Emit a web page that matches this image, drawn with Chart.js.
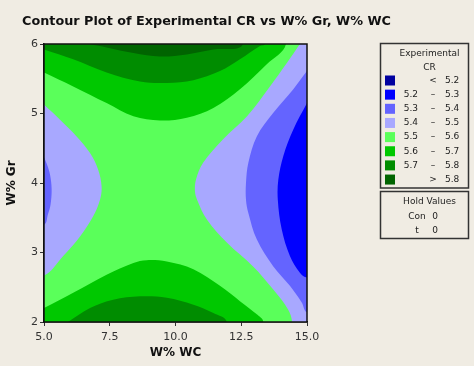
<!DOCTYPE html>
<html>
<head>
<meta charset="utf-8">
<style>
  html, body { margin: 0; padding: 0; background: #f0ece3; }
  #wrap { width: 474px; height: 366px; }
</style>
<script src="https://cdn.jsdelivr.net/npm/chart.js@4.4.0/dist/chart.umd.min.js"></script>
</head>
<body>
<div id="wrap"><canvas id="c" width="474" height="366"></canvas></div>
<script>
// ---------- texts ----------
const chartTitle = 'Contour Plot of Experimental CR vs W% Gr, W% WC';
const xTitle = 'W% WC';
const yTitle = 'W% Gr';
const xTicks = [5.0, 7.5, 10.0, 12.5, 15.0];
const yTicks = [2, 3, 4, 5, 6];
const legendTitle = ['Experimental', 'CR'];
const legendFrom = ['', '5.2', '5.3', '5.4', '5.5', '5.6', '5.7', ''];
const legendSym  = ['<', '\u2013', '\u2013', '\u2013', '\u2013', '\u2013', '\u2013', '>'];
const legendTo   = ['5.2', '5.3', '5.4', '5.5', '5.6', '5.7', '5.8', '5.8'];
const levelColors = ['#0000a0', '#0000ff', '#6464ff', '#a8a8ff', '#5aff5a', '#00c800', '#008c00', '#006400'];
const holdTitle = 'Hold Values';
const holdNames = ['Con', 't'];
const holdValues = [0, 0];

// ---------- contour lines: [W% WC, W% Gr] ----------
const c56Top = [[5.0,5.59],[6.11,5.39],[7.38,5.15],[8.40,4.96],[9.41,4.90],[10.43,4.94],[11.44,5.08],[12.45,5.35],[13.47,5.71],[14.20,6.0]];
const c57Top = [[5.0,5.92],[6.11,5.78],[7.38,5.59],[8.65,5.46],[9.67,5.44],[10.68,5.48],[11.69,5.61],[12.45,5.78],[13.21,5.97],[13.40,6.0]];
const c58Top = [[6.75,6.0],[7.38,5.95],[8.40,5.87],[9.41,5.82],[10.43,5.85],[11.44,5.92],[12.57,6.0]];
const c56Bot = [[5.0,2.20],[6.11,2.42],[7.38,2.68],[8.40,2.85],[8.90,2.89],[9.67,2.87],[10.68,2.76],[11.69,2.52],[12.45,2.30],[13.09,2.11],[13.34,2.0]];
const c57Bot = [[5.91,2.0],[6.75,2.20],[7.63,2.32],[8.65,2.37],[9.67,2.35],[10.68,2.25],[11.44,2.13],[11.95,2.0]];
const c55Left = [[5.0,5.13],[5.61,4.91],[6.24,4.67],[6.75,4.43],[7.06,4.19],[7.19,3.95],[7.13,3.76],[6.87,3.52],[6.37,3.23],[5.73,2.95],[5.0,2.67]];
const c54Left = [[5.0,4.37],[5.11,4.27],[5.23,4.12],[5.29,3.91],[5.25,3.69],[5.15,3.55],[5.0,3.40]];
const c55Right = [[14.73,6.0],[14.24,5.73],[13.59,5.39],[12.72,4.96],[11.81,4.63],[11.05,4.29],[10.78,4.05],[10.74,3.88],[10.82,3.76],[11.20,3.47],[11.96,3.14],[12.95,2.80],[13.71,2.47],[14.28,2.18],[14.43,2.0]];
const c54Right = [[15.0,5.61],[14.48,5.35],[13.72,5.01],[13.09,4.67],[12.77,4.29],[12.68,4.00],[12.68,3.76],[12.77,3.57],[13.09,3.19],[13.72,2.80],[14.35,2.52],[14.80,2.28],[15.0,2.14]];
const c53Right = [[15.0,5.15],[14.48,4.77],[14.10,4.39],[13.91,4.05],[13.89,3.76],[14.04,3.33],[14.35,2.95],[14.73,2.71],[15.0,2.64]];

// ---------- build filled regions (painter's order) ----------
const X0 = xTicks[0], X1 = xTicks[xTicks.length - 1];
const Y0 = yTicks[0], Y1 = yTicks[yTicks.length - 1];
function outward(p) {
  if (p[0] <= X0) return [X0 - 1, p[1]];
  if (p[0] >= X1) return [X1 + 1, p[1]];
  if (p[1] >= Y1) return [p[0], Y1 + 1];
  return [p[0], Y0 - 1];
}
const TL = [X0 - 1, Y1 + 1], BL = [X0 - 1, Y0 - 1], TR = [X1 + 1, Y1 + 1], BR = [X1 + 1, Y0 - 1];
// region: [contour, colour index, corners outside the plot to close the shape]
const regions = [
  [c55Left, 3, []], [c55Right, 3, [BR, TR]],
  [c54Left, 2, []], [c54Right, 2, []],
  [c53Right, 1, []],
  [c56Top, 5, [TL]], [c56Bot, 5, [BL]],
  [c57Top, 6, [TL]], [c57Bot, 6, []],
  [c58Top, 7, []]
];
const datasets = regions.map(([c, ci, corners], i) => {
  const pts = [...c, outward(c[c.length - 1]), ...corners, outward(c[0])];
  return {
    data: pts.map(p => ({x: p[0], y: p[1]})),
    showLine: true,
    fill: 'shape',
    backgroundColor: levelColors[ci],
    borderWidth: 0,
    borderColor: 'rgba(0,0,0,0)',
    pointRadius: 0,
    tension: 0.35,
    capBezierPoints: false,
    order: regions.length - i
  };
});

const FONT = "'DejaVu Sans', Verdana, sans-serif";

const bgPlugin = {
  id: 'bg',
  beforeDatasetsDraw(chart) {
    const {ctx, chartArea: a} = chart;
    ctx.save();
    ctx.fillStyle = levelColors[4];
    ctx.fillRect(a.left, a.top, a.right - a.left, a.bottom - a.top);
    ctx.restore();
  },
  afterDraw(chart) {
    const {ctx, chartArea: a} = chart;
    ctx.save();
    // plot frame
    ctx.strokeStyle = '#111';
    ctx.lineWidth = 1.5;
    ctx.strokeRect(a.left, a.top, a.right - a.left, a.bottom - a.top);
    // main title
    ctx.fillStyle = '#111';
    ctx.font = "bold 12.8px " + FONT;
    ctx.textBaseline = 'alphabetic';
    ctx.textAlign = 'left';
    ctx.fillText(chartTitle, 22, 25);
    // legend box
    ctx.strokeStyle = '#333';
    ctx.lineWidth = 1.5;
    ctx.strokeRect(380.5, 43.5, 88, 144.5);
    ctx.strokeRect(380.5, 191.5, 88, 47);
    ctx.fillStyle = '#222';
    ctx.font = "9px " + FONT;
    ctx.textAlign = 'center';
    ctx.textBaseline = 'middle';
    ctx.fillText(legendTitle[0], 429.5, 53.5);
    ctx.fillText(legendTitle[1], 429.5, 68);
    for (let i = 0; i < legendTo.length; i++) {
      const y = 80.5 + i * 14.15;
      ctx.fillStyle = levelColors[i];
      ctx.fillRect(385, y - 5, 10, 10);
      ctx.fillStyle = '#222';
      ctx.textAlign = 'right';
      ctx.fillText(legendFrom[i], 418, y);
      ctx.textAlign = 'center';
      ctx.fillText(legendSym[i], 433, y);
      ctx.textAlign = 'left';
      ctx.fillText(legendTo[i], 445, y);
    }
    ctx.textAlign = 'center';
    ctx.fillText(holdTitle, 429.5, 202);
    for (let i = 0; i < holdNames.length; i++) {
      const y = 216.5 + i * 14;
      ctx.fillText(holdNames[i], 417, y);
      ctx.fillText(String(holdValues[i]), 435, y);
    }
    ctx.restore();
  }
};

new Chart(document.getElementById('c'), {
  type: 'scatter',
  data: { datasets },
  options: {
    responsive: false,
    animation: false,
    events: [],
    layout: { padding: { left: 0, right: 167, top: 44, bottom: 0 } },
    plugins: { legend: { display: false }, tooltip: { enabled: false }, title: { display: false } },
    scales: {
      x: {
        type: 'linear', min: X0, max: X1,
        afterBuildTicks: s => { s.ticks = xTicks.map(v => ({ value: v })); },
        afterFit: s => { s.height = 44; },
        ticks: { callback: v => Number(v).toFixed(1), font: { family: FONT, size: 11 }, color: '#333', padding: 5, maxRotation: 0, autoSkip: false },
        grid: { drawOnChartArea: false, tickLength: 4, color: '#333' },
        border: { color: '#111', width: 1.5 },
        title: { display: true, text: xTitle, font: { family: FONT, size: 12, weight: 'bold' }, color: '#111', padding: { top: 0, bottom: 6 } }
      },
      y: {
        type: 'linear', min: Y0, max: Y1,
        afterBuildTicks: s => { s.ticks = yTicks.map(v => ({ value: v })); },
        afterFit: s => { s.width = 44; },
        ticks: { callback: v => String(v), font: { family: FONT, size: 11 }, color: '#333', padding: 2, autoSkip: false },
        grid: { drawOnChartArea: false, tickLength: 4, color: '#333' },
        border: { color: '#111', width: 1.5 },
        title: { display: true, text: yTitle, font: { family: FONT, size: 12, weight: 'bold' }, color: '#111', padding: { top: 5, bottom: 0 } }
      }
    }
  },
  plugins: [bgPlugin]
});
</script>
</body>
</html>
